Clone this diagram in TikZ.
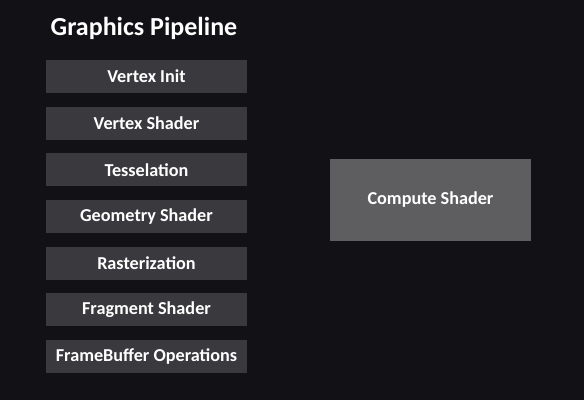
\documentclass[tikz,border=0pt]{standalone}
\usepackage{xcolor}
\usepackage{fontspec}
\setmainfont{Carlito}
\usepackage{tikz}
\usetikzlibrary{positioning}

\definecolor{bgdark}{HTML}{121116}
\definecolor{stagegray}{HTML}{3A393D}
\definecolor{computegray}{HTML}{5E5E60}

\begin{document}
\begin{tikzpicture}[x=1pt, y=-1pt, every node/.style={text=white, font=\bfseries},
  stage/.style={fill=stagegray, minimum width=201pt, minimum height=33pt, inner sep=0pt, font=\bfseries\fontsize{18.2}{21}\selectfont}]

%//background, top left at (0,0)
\fill [bgdark] (0,0) rectangle (584,400);
\useasboundingbox (0,0) rectangle (584,400);

\node [font=\bfseries\fontsize{26}{30}\selectfont] (title) at (144,28) {Graphics Pipeline};

\foreach \i/\name/\val in {0/vinit/Vertex Init, 1/vshader/Vertex Shader, 2/tess/Tesselation, 3/geom/Geometry Shader, 4/raster/Rasterization, 5/frag/Fragment Shader, 6/fbops/FrameBuffer Operations}
\node [stage] (\name) at (146.5, 76.5 + 46.67*\i) {\val};

\node [stage, fill=computegray, minimum height=82pt] (compute) at (430.5, 200) {Compute Shader};

\end{tikzpicture}
\end{document}
